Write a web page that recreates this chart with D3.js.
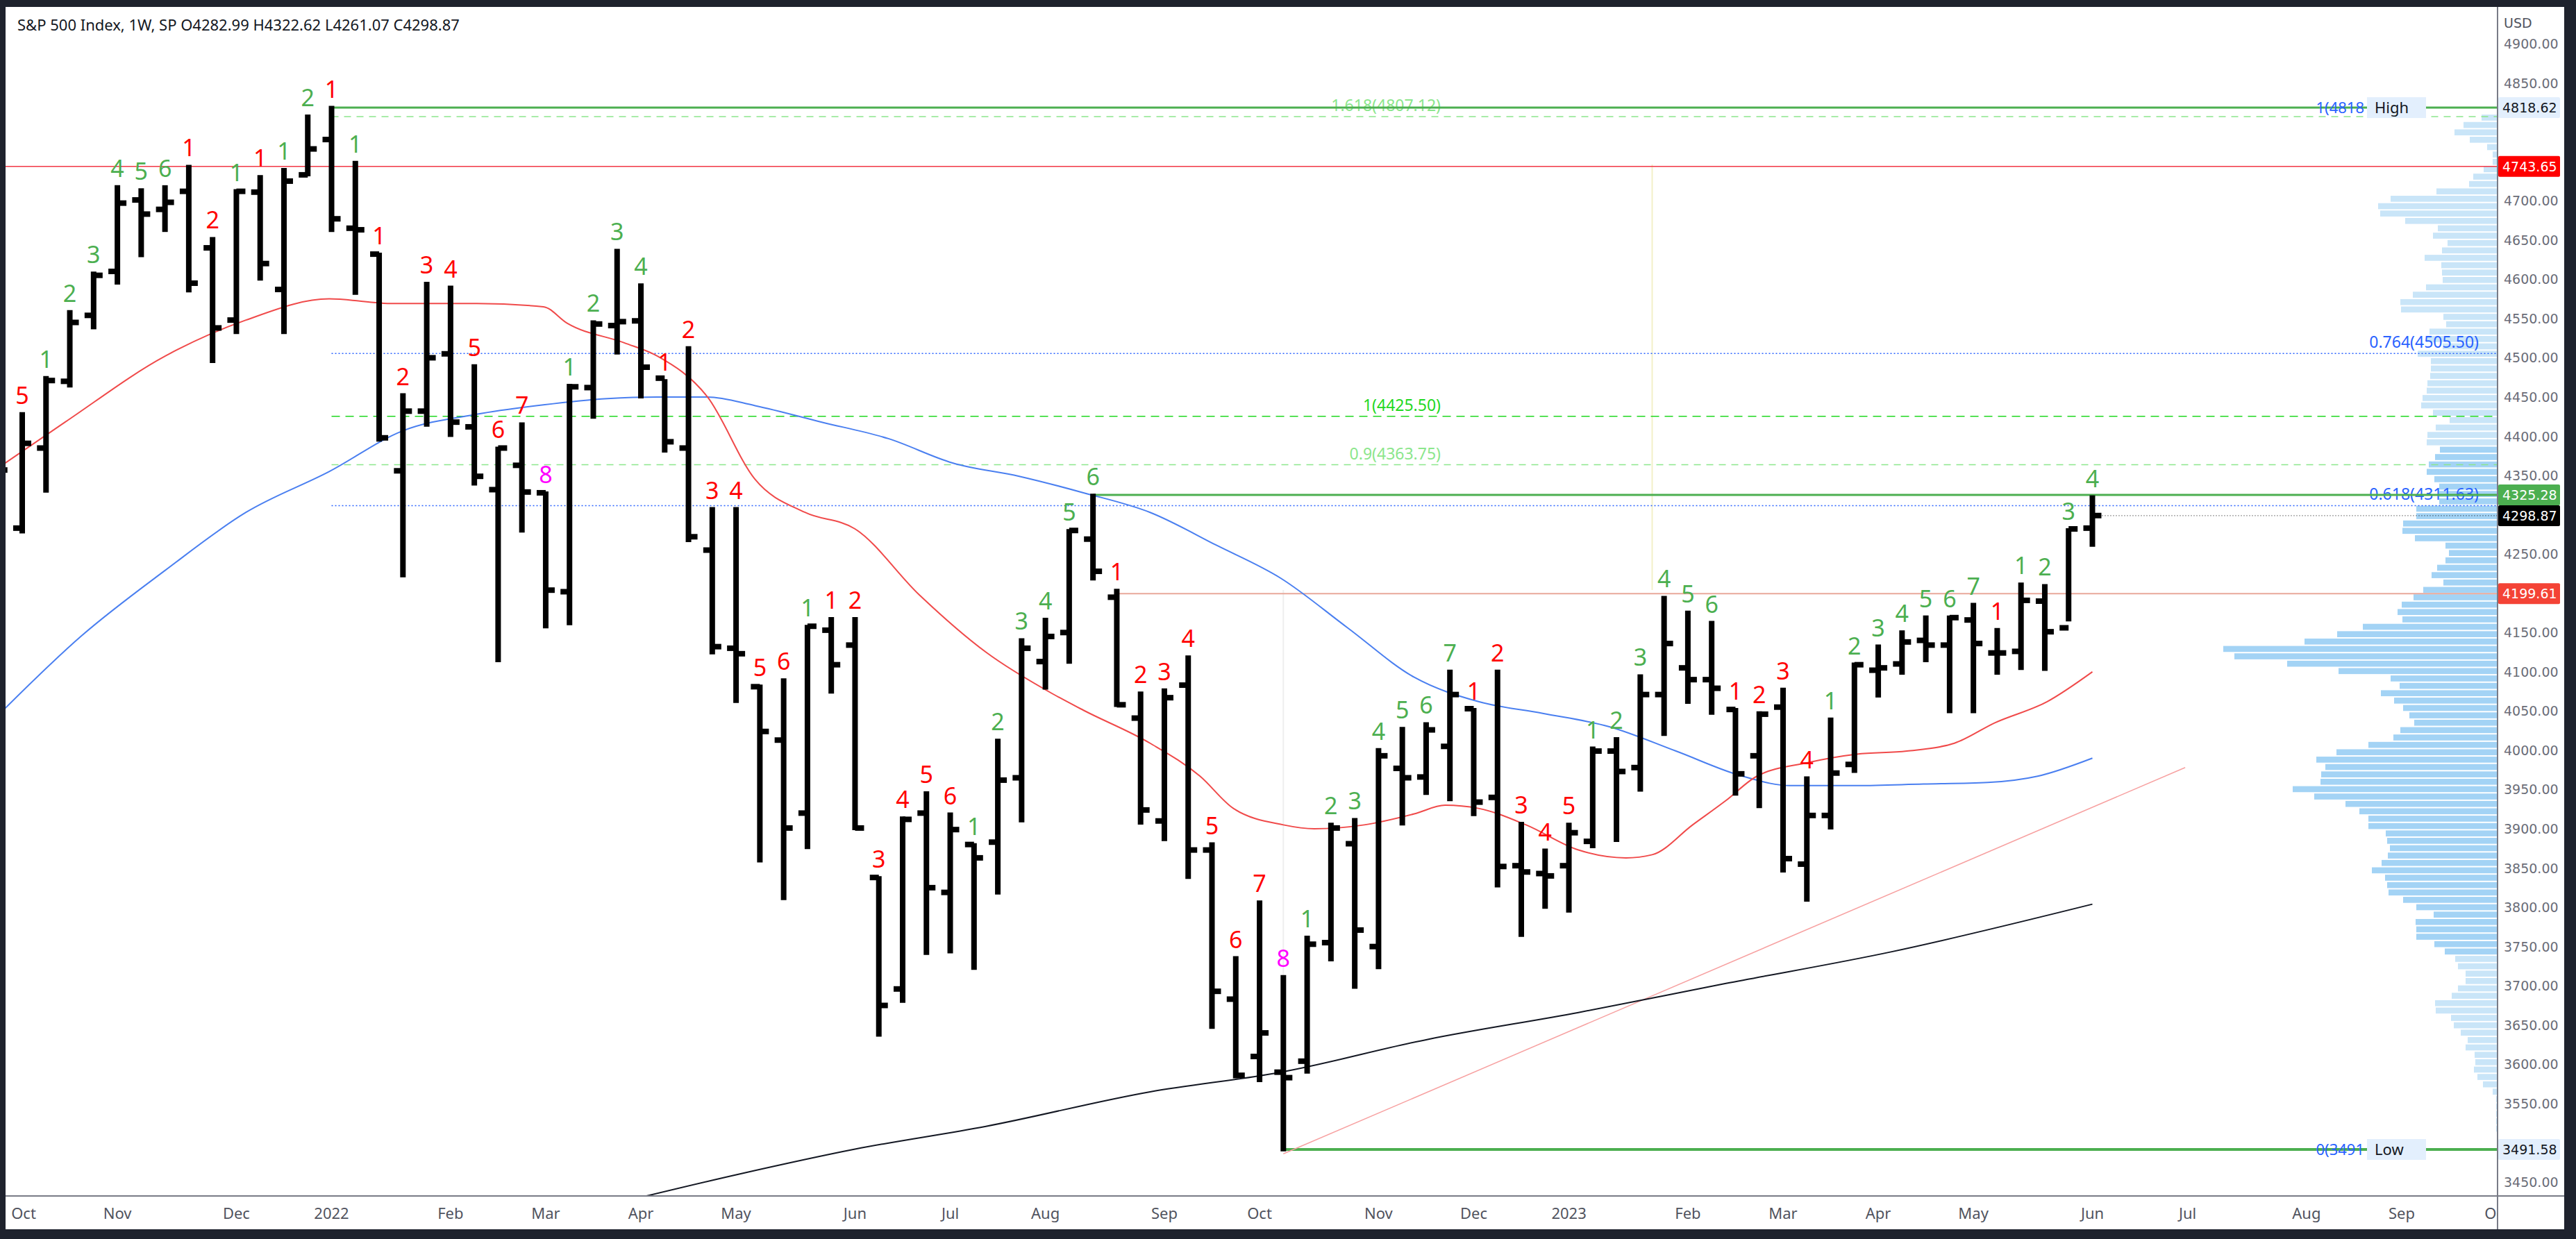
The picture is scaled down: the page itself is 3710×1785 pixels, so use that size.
<!DOCTYPE html>
<html>
<head>
<meta charset="utf-8">
<script src="https://cdn.jsdelivr.net/npm/d3@7"></script>
<style>
  body { margin: 0; background: #1e222d; }
  svg { display: block; }
</style>
</head>
<body>
<svg id="chart" width="3710" height="1785"></svg>
<script>
// weekly bars, first one is the week of 27 Sep 2021
var firstWeek = new Date(2021, 8, 27);
var opens  = [4450,4283,4385,4470,4554,4610,4701,4689,4712,4640,4548,4711,4587,4733,4778,4665,4632,4356,4432,4505,4412,4332,4363,4328,4202,4462,4541,4547,4474,4385,4255,4130,4081,4013,3920,4153,4134,3838,3696,3920,3819,3880,3883,3965,4113,4150,4269,4195,4041,3910,4083,3873,3683,3610,3590,3604,3755,3881,3750,3977,3966,4005,4053,3940,3853,3843,3853,3884,3999,3978,4071,4105,4090,4052,3993,4055,3855,3917,3982,4102,4110,4140,4134,4166,4124,4126,4190,4156,4283];
var highs  = [4466,4429,4475,4559,4608,4718,4714,4718,4744,4652,4713,4731,4740,4808,4819,4749,4632,4453,4595,4590,4490,4385,4416,4328,4465,4546,4637,4593,4471,4513,4308,4308,4082,4090,4158,4168,4168,3838,3914,3946,3919,3880,4013,4141,4167,4280,4325,4204,4073,4077,4119,3881,3736,3807,3712,3762,3906,3912,4001,4028,4034,4101,4052,4101,3907,3873,3906,4003,4015,4095,4195,4176,4163,4052,4048,4078,3965,4040,4110,4133,4151,4170,4170,4186,4154,4212,4210,4281,4323];
var lows   = [4288,4278,4330,4464,4538,4595,4630,4662,4585,4495,4532,4600,4532,4733,4662,4582,4395,4222,4414,4401,4339,4114,4279,4157,4161,4424,4506,4450,4381,4267,4124,4062,3859,3811,3876,4074,3900,3637,3680,3741,3743,3722,3818,3910,4079,4112,4218,4057,3907,3886,3838,3647,3584,3579,3491,3590,3733,3698,3723,3906,3945,3937,3918,3827,3764,3800,3795,3877,3885,3949,4020,4061,4047,3944,3928,3846,3809,3901,3973,4069,4098,4114,4049,4049,4098,4104,4103,4166,4261];
var closes = [4357,4391,4471,4545,4605,4697,4683,4698,4595,4538,4712,4620,4725,4766,4677,4663,4398,4432,4500,4418,4349,4385,4329,4204,4463,4543,4546,4488,4393,4272,4132,4123,4024,3901,4158,4109,3901,3675,3912,3825,3899,3863,3962,4130,4145,4280,4228,4058,3924,4067,3873,3693,3586,3640,3583,3753,3901,3771,3993,3965,4026,4071,3934,3852,3845,3840,3895,3999,3973,4071,4136,4090,4079,3970,4046,3862,3917,3971,4109,4105,4138,4134,4169,4136,4124,4191,4151,4282,4299];

// TD sequential counts, one per week from 4 Oct 2021 (g=green r=red m=magenta)
var countText  = "5123456121112111234567812341234561123456123456123456781234567123451234561234123456711234".split("");
var countColor = "rggggggrrgrggrgrrrrrrrmggggrrrrrrgrrrrrrggggggrrrrrrrmgggggggrrrrrggggggrrrrgggggggrggggg".split("");

// moving averages: [week index from 4 Oct 2021, value]
var ma20 = [[-1,4360],[1.8,4418],[6,4502],[9.4,4548],[12.9,4575],[15.6,4569],[19.1,4569],[21.9,4565],[22.9,4544],[25.3,4519],[26.7,4502],[28.8,4450],[30.8,4345],[32.9,4303],[35,4282],[37.7,4198],[40.5,4125],[43.3,4072],[44.6,4051],[47.4,4009],[49.5,3967],[50.9,3926],[53,3905],[54.3,3900],[56.4,3905],[58.5,3919],[59.8,3930],[61.2,3926],[63.2,3905],[65.4,3873],[67.4,3863],[68.5,3867],[70.2,3905],[71.6,3936],[72.9,3967],[75,3984],[77.1,3995],[79.2,3999],[81.2,4009],[82.9,4035],[85.1,4062],[87,4100]];
var ma50 = [[-1,4045],[2.5,4146],[6,4229],[9.4,4303],[12.9,4355],[16,4407],[19.1,4428],[21.9,4440],[24.6,4448],[26.7,4450],[28.8,4450],[30.8,4439],[33.6,4418],[36.4,4397],[39.1,4366],[41.9,4349],[44.6,4328],[47.4,4303],[50.2,4261],[52.9,4219],[55.7,4156],[58.5,4093],[61.2,4062],[63.9,4047],[66.7,4030],[69.5,3999],[72.3,3967],[74.3,3955],[77.1,3955],[79.9,3957],[82.6,3959],[84.7,3967],[87,3990]];
var ma200 = [[24.96,3423],[30.1,3460],[35,3492],[40.5,3521],[47.4,3565],[52.9,3590],[59.1,3632],[65.4,3666],[71.6,3703],[78.5,3743],[87,3804]];
var trendLine = [[53,3486],[90.9,3978]];

// horizontal levels
var levels = [
  {p: 4818.62, from: 13, color: "#4caf50", w: 3, label: "4818.62", bg: "#e3effd", fg: "#131722"},
  {p: 4743.65, from: -2, color: "#f23645", w: 1.5, label: "4743.65", bg: "#ff0000", fg: "#fff"},
  {p: 4325.28, from: 45, color: "#4caf50", w: 3, label: "4325.28", bg: "#4caf50", fg: "#fff"},
  {p: 4199.61, from: 46, color: "#e8a89a", w: 2, label: "4199.61", bg: "#f44336", fg: "#fff"},
  {p: 3491.58, from: 53, color: "#4caf50", w: 4, label: "3491.58", bg: "#e3effd", fg: "#131722"}
];
var lastClose = {p: 4298.87, label: "4298.87", bg: "#000", fg: "#fff"};
var fibs = [
  {p: 4807.12, text: "1.618(4807.12)", color: "#8ce68c", dash: "10,8", textEnd: 2075},
  {p: 4505.50, text: "0.764(4505.50)", color: "#2962ff", dash: "2,3", textEnd: 3570},
  {p: 4425.50, text: "1(4425.50)", color: "#1fd81f", dash: "12,8", textEnd: 2075},
  {p: 4363.75, text: "0.9(4363.75)", color: "#8ce68c", dash: "10,8", textEnd: 2075},
  {p: 4311.63, text: "0.618(4311.63)", color: "#2962ff", dash: "2,3", textEnd: 3570}
];

// volume profile rows of 9.4 points, relative volume
var profileBase = 4199.6, profileStep = 9.4;
var profileAbove = [107,78,95,87,75,70,75,119,137,136,117,117,84,84,84,91,102,99,90,83,102,101,89,69,93,110,108,102,101,97,96,96,115,79,103,98,74,78,139,140,122,103,79,80,81,105,80,72,93,86,133,169,172,154,88,41,35,20,7,7,15,40,62,49,23];
var profileBelow = [121,138,144,137,194,231,278,395,379,303,229,154,141,168,149,136,127,120,140,150,186,232,261,248,254,255,295,264,219,199,186,186,161,159,155,158,167,181,162,159,157,136,117,92,118,117,117,91,76,61,57,46,46,57,66,90,89,67,63,53,43,46,33,32,34,29,21,7,2,2,2,2,2];
var profileDarkAbove = 20, profileDarkBelow = 49;

var priceTicks = d3.range(3450, 4901, 50);

var svg = d3.select("#chart");
var plot = {left: 8, top: 10, right: 3597, bottom: 1723};

svg.append("rect").attr("x", 8).attr("y", 10).attr("width", 3685).attr("height", 1761).attr("fill", "#fff");

var x0 = 32, step = 34.27;
var x = d3.scaleLinear().domain([0, 1]).range([x0, x0 + step]);
var y = d3.scaleLinear().domain([3450, 4900]).range([1703, 63]);

var defs = svg.append("defs");
defs.append("clipPath").attr("id", "clip")
  .append("rect").attr("x", plot.left).attr("y", plot.top)
  .attr("width", plot.right - plot.left).attr("height", plot.bottom - plot.top);
defs.append("clipPath").attr("id", "clipx")
  .append("rect").attr("x", plot.left).attr("y", plot.bottom)
  .attr("width", plot.right - plot.left).attr("height", 50);
var g = svg.append("g").attr("clip-path", "url(#clip)");

// volume profile
var vw = d3.scaleLinear().domain([0, 395]).range([0, 395]);
var rows = [];
profileAbove.forEach(function (v, k) { rows.push({lo: profileBase + k * profileStep, v: v, dark: k < profileDarkAbove}); });
profileBelow.forEach(function (v, k) { rows.push({lo: profileBase - (k + 1) * profileStep, v: v, dark: k < profileDarkBelow}); });
g.selectAll(".vp").data(rows).join("rect")
  .attr("x", function (d) { return plot.right - vw(d.v); })
  .attr("y", function (d) { return y(d.lo + profileStep) + 1; })
  .attr("width", function (d) { return vw(d.v); })
  .attr("height", function (d) { return Math.max(1, y(d.lo) - y(d.lo + profileStep) - 2); })
  .attr("fill", function (d) { return d.dark ? "#a3d3f5" : "#c9e5f8"; });

// faint verticals
g.append("line").attr("x1", x(68.5)).attr("x2", x(68.5)).attr("y1", 237).attr("y2", 850)
  .attr("stroke", "#f3f0c8").attr("stroke-width", 2);
g.append("line").attr("x1", x(53)).attr("x2", x(53)).attr("y1", 850).attr("y2", y(3491.58))
  .attr("stroke", "#eeeeee").attr("stroke-width", 2);

// fib levels
fibs.forEach(function (f) {
  g.append("line").attr("x1", x(13)).attr("x2", plot.right).attr("y1", y(f.p)).attr("y2", y(f.p))
    .attr("stroke", f.color).attr("stroke-width", 1.5).attr("stroke-dasharray", f.dash);
  g.append("text").attr("x", f.textEnd).attr("y", y(f.p) - 8).attr("text-anchor", "end")
    .attr("font-family", "Noto Sans").attr("font-size", 23).attr("fill", f.color).text(f.text);
});

// horizontal levels
levels.forEach(function (l) {
  g.append("line").attr("x1", l.from < 0 ? plot.left : x(l.from)).attr("x2", plot.right)
    .attr("y1", y(l.p)).attr("y2", y(l.p)).attr("stroke", l.color).attr("stroke-width", l.w);
});
g.append("text").attr("x", 3405).attr("y", y(4818.62) + 8).attr("text-anchor", "end")
  .attr("font-family", "Noto Sans").attr("font-size", 22).attr("fill", "#2962ff").text("1(4818");
g.append("text").attr("x", 3405).attr("y", y(3491.58) + 8).attr("text-anchor", "end")
  .attr("font-family", "Noto Sans").attr("font-size", 22).attr("fill", "#2962ff").text("0(3491");
[["High", 4818.62], ["Low", 3491.58]].forEach(function (t) {
  g.append("rect").attr("x", 3409).attr("y", y(t[1]) - 15).attr("width", 85).attr("height", 30).attr("fill", "#e3effd");
  g.append("text").attr("x", 3420).attr("y", y(t[1]) + 8).attr("font-family", "Noto Sans").attr("font-size", 22)
    .attr("fill", "#131722").text(t[0]);
});

// moving averages
var line = d3.line().x(function (d) { return x(d[0]); }).y(function (d) { return y(d[1]); }).curve(d3.curveMonotoneX);
g.append("path").attr("d", line(trendLine)).attr("fill", "none").attr("stroke", "#f7a1a1").attr("stroke-width", 1.5);
g.append("path").attr("d", line(ma200)).attr("fill", "none").attr("stroke", "#131722").attr("stroke-width", 2);
g.append("path").attr("d", line(ma50)).attr("fill", "none").attr("stroke", "#4a7ff0").attr("stroke-width", 2);
g.append("path").attr("d", line(ma20)).attr("fill", "none").attr("stroke", "#f04a4a").attr("stroke-width", 2);

// OHLC bars
var bars = opens.map(function (o, i) { return {i: i - 1, o: o, h: highs[i], l: lows[i], c: closes[i]}; });
var bg = g.append("g").attr("stroke", "#000").attr("stroke-width", 8);
bars.forEach(function (b) {
  var cx = x(b.i);
  bg.append("line").attr("x1", cx).attr("x2", cx).attr("y1", y(b.h) - 2).attr("y2", y(b.l) + 2);
  bg.append("line").attr("x1", cx - 13).attr("x2", cx).attr("y1", y(b.o)).attr("y2", y(b.o));
  bg.append("line").attr("x1", cx).attr("x2", cx + 13).attr("y1", y(b.c)).attr("y2", y(b.c));
});
// last close dotted marker
g.append("line").attr("x1", x(87) + 14).attr("x2", plot.right).attr("y1", y(lastClose.p)).attr("y2", y(lastClose.p))
  .attr("stroke", "#000").attr("stroke-width", 1).attr("stroke-dasharray", "1,3");

// counts
var colorMap = {g: "#4caf50", r: "#ff0000", m: "#ff00ff"};
g.selectAll(".cnt").data(countText).join("text")
  .attr("x", function (d, k) { return x(k); })
  .attr("y", function (d, k) { return y(highs[k + 1]) - 14; })
  .attr("text-anchor", "middle").attr("font-family", "Noto Sans").attr("font-size", 34)
  .attr("fill", function (d, k) { return colorMap[countColor[k]]; })
  .text(function (d) { return d; });

// frame lines
svg.append("line").attr("x1", plot.right).attr("x2", plot.right).attr("y1", 10).attr("y2", 1771).attr("stroke", "#787b86").attr("stroke-width", 2);
svg.append("line").attr("x1", 8).attr("x2", 3693).attr("y1", plot.bottom).attr("y2", plot.bottom).attr("stroke", "#787b86").attr("stroke-width", 2);

// price axis, ticks hidden where a level label sits on top
var boxes = levels.concat([lastClose]);
var pa = svg.append("g").attr("font-family", "DejaVu Sans").attr("font-size", 19).attr("fill", "#6a6d78");
pa.append("text").attr("x", 3606).attr("y", 40).attr("fill", "#50535e").text("USD");
pa.selectAll(".pt").data(priceTicks.filter(function (t) {
    return boxes.every(function (b) { return Math.abs(y(t) - y(b.p)) > 26; });
  })).join("text")
  .attr("x", 3606).attr("y", function (d) { return y(d) + 7; }).text(function (d) { return d.toFixed(2); });
boxes.forEach(function (l) {
  pa.append("rect").attr("x", 3598).attr("y", y(l.p) - 15).attr("width", 89).attr("height", 30).attr("rx", 2).attr("fill", l.bg);
  pa.append("text").attr("x", 3604).attr("y", y(l.p) + 7).attr("fill", l.fg).text(l.label);
});

// time axis: label the first weekly bar in each month
var weeks = d3.range(-1, 112).map(function (i) { return {i: i, d: d3.timeWeek.offset(firstWeek, i + 1)}; });
var monthTicks = weeks.filter(function (w, k) { return k > 0 && w.d.getMonth() !== weeks[k - 1].d.getMonth(); });
var fmt = d3.timeFormat("%b");
svg.append("g").attr("clip-path", "url(#clipx)").selectAll("text").data(monthTicks).join("text")
  .attr("x", function (w) { return Math.max(34, x(w.i)); }).attr("y", 1756).attr("text-anchor", "middle")
  .attr("font-family", "Noto Sans").attr("font-size", 22).attr("fill", "#50535e")
  .text(function (w) { return w.d.getMonth() === 0 ? w.d.getFullYear() : fmt(w.d); });

// title
svg.append("text").attr("x", 25).attr("y", 44).attr("font-family", "Noto Sans").attr("font-size", 22)
  .attr("fill", "#131722").text("S&P 500 Index, 1W, SP   O4282.99  H4322.62  L4261.07  C4298.87");
</script>
</body>
</html>
